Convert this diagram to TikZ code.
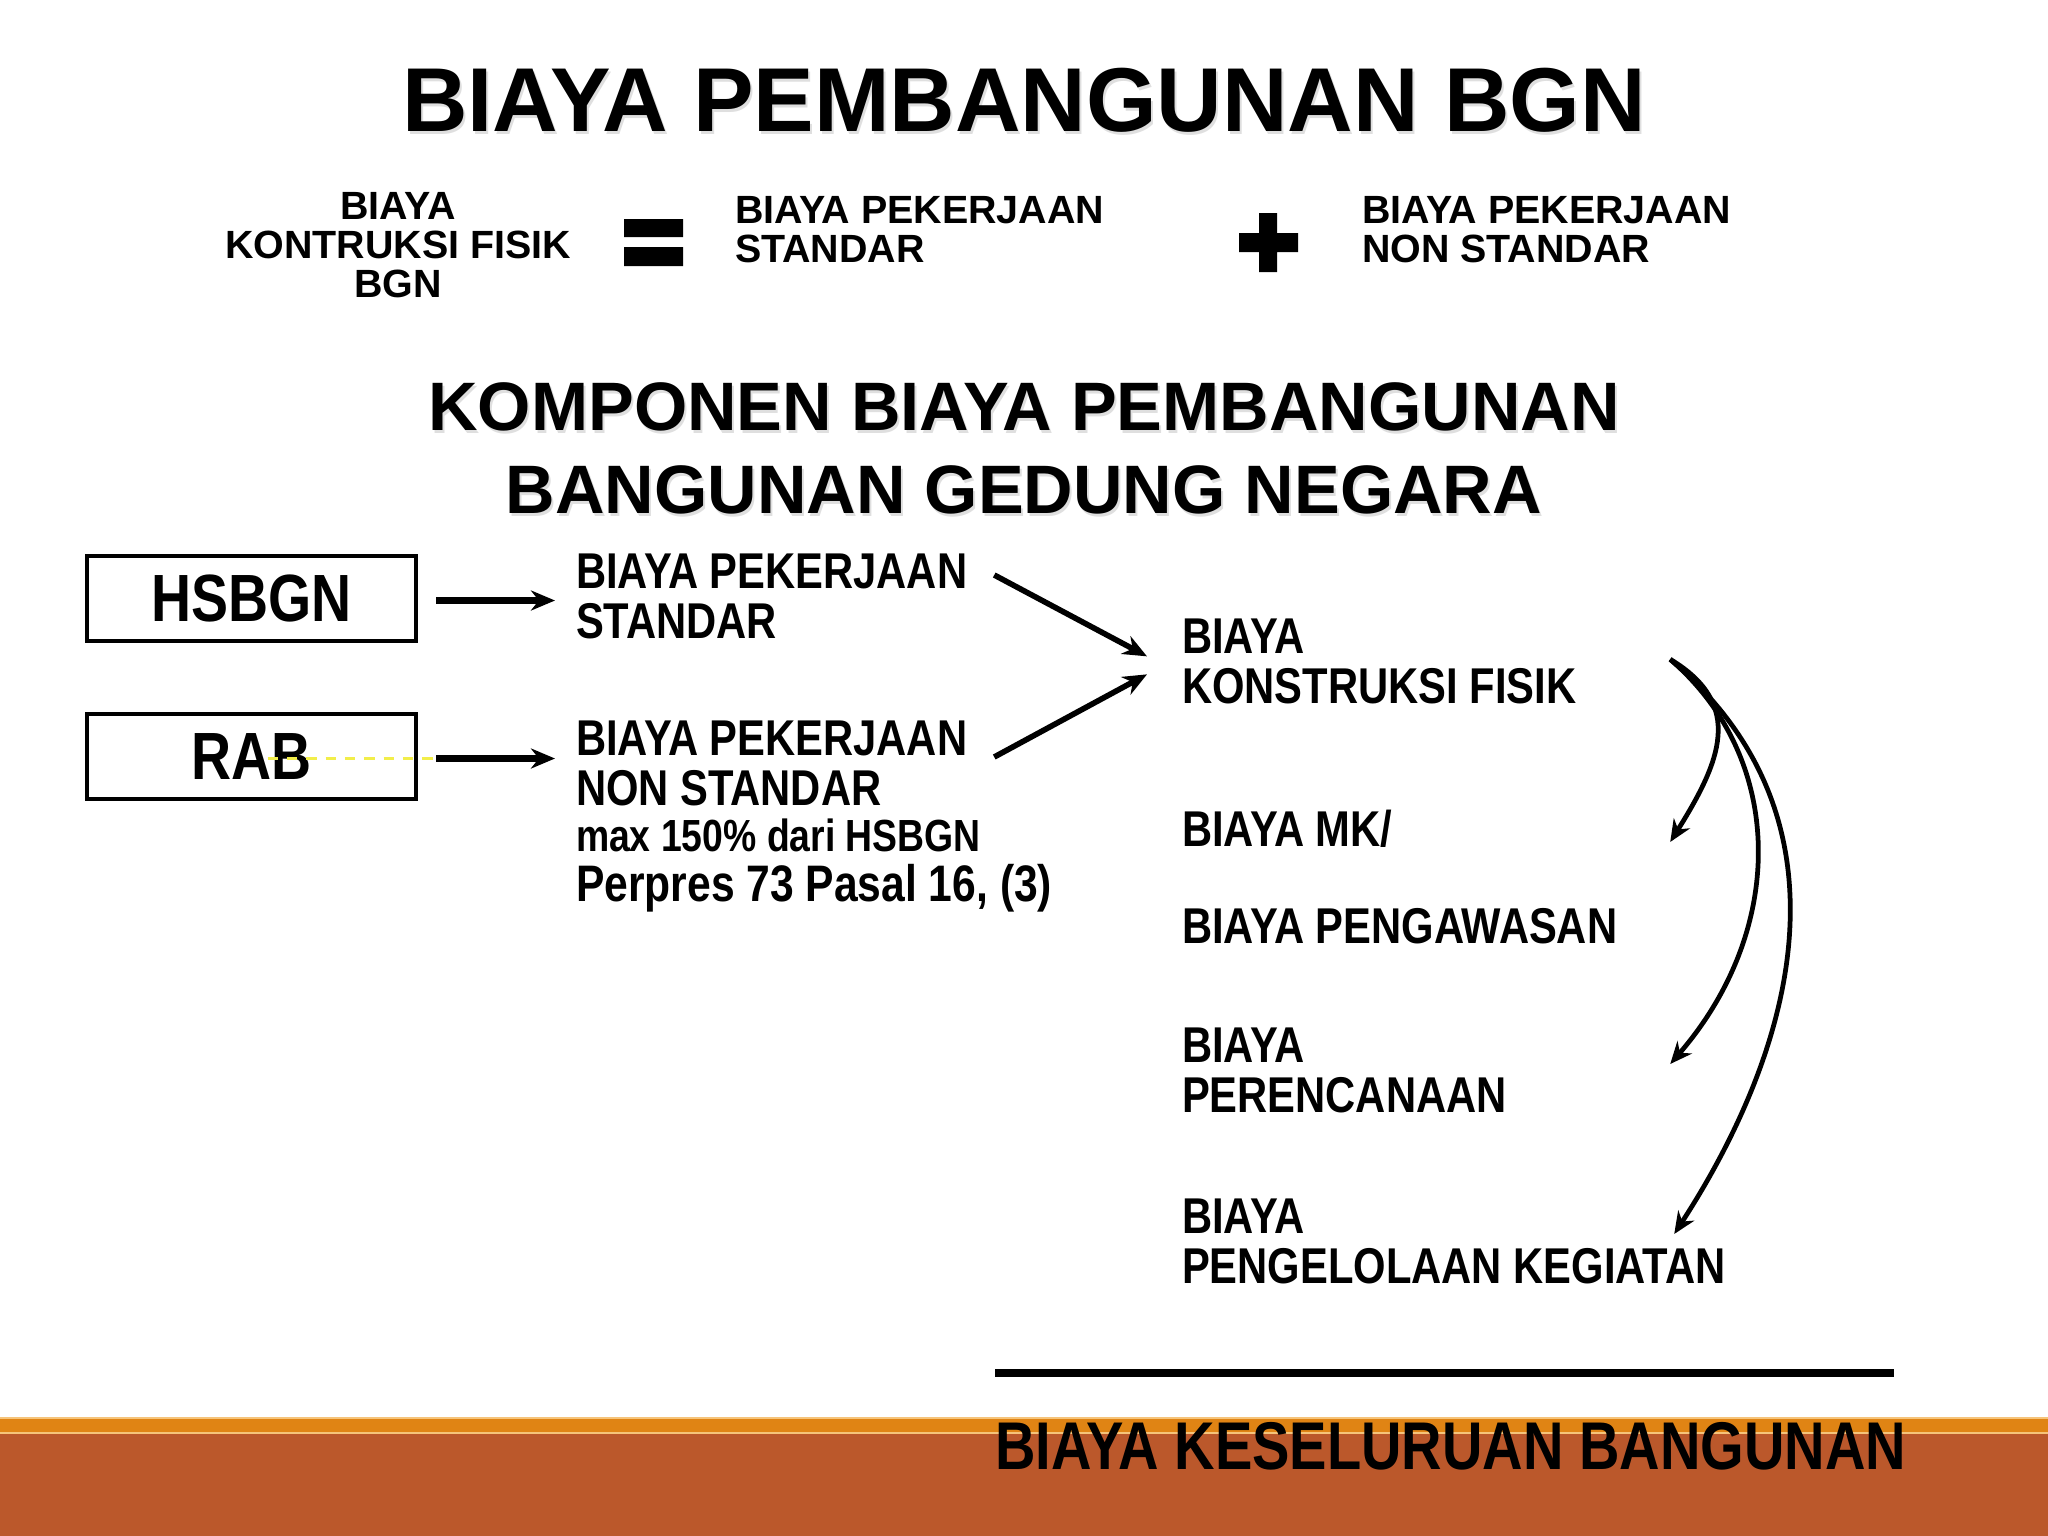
\documentclass[tikz,border=0pt]{standalone}
\usepackage{fontspec}
\setmainfont{Liberation Sans}
\newfontfamily\narrowfont[FakeStretch=0.83]{Liberation Sans}
\usetikzlibrary{arrows.meta,calc}
\definecolor{bandorange}{HTML}{E08414}
\definecolor{bandbrown}{HTML}{BB582B}
\definecolor{bandedge}{HTML}{F6C47A}
\definecolor{markyellow}{HTML}{F2EE4A}

\begin{document}
\begin{tikzpicture}[x=0.01cm,y=-0.01cm,
    every node/.style={inner sep=0pt,outer sep=0pt},
    heading/.style={font=\bfseries\fontsize{25.8}{28}\selectfont},
    subheading/.style={font=\bfseries\fontsize{19.5}{23.6}\selectfont,align=center},
    formula/.style={font=\bfseries\fontsize{11.2}{11.2}\selectfont},
    item/.style={font=\narrowfont\bfseries\fontsize{14.3}{14.1}\selectfont,align=left},
    srcbox/.style={draw,line width=1.1pt,minimum width=3.29cm,minimum height=0.85cm,
        font=\narrowfont\bfseries\fontsize{19}{22}\selectfont},
    feed/.style={-{Stealth[length=0.24cm,width=0.2cm]},line width=2pt},
    spread/.style={-{Stealth[length=0.22cm,width=0.19cm]},line width=1.35pt}]
    \useasboundingbox[fill=white] (0,0) rectangle (2048,1536);

    % judul
    \node[heading,gray!25,anchor=base] (titleshadow) at (1026,134) {BIAYA PEMBANGUNAN BGN};
    \node[heading,anchor=base] (title) at (1024,131) {BIAYA PEMBANGUNAN BGN};

    % rumus
    \node[formula,align=center,anchor=north] (bkfbgn) at (398,192) {BIAYA\\KONTRUKSI FISIK\\BGN};
    \fill (624,219) rectangle (683,237) (624,247) rectangle (683,266);
    \node[formula,align=left,anchor=north west] (fstd) at (735,196) {BIAYA PEKERJAAN\\STANDAR};
    \fill (1259,213) rectangle (1277,272) (1239,233) rectangle (1298,252);
    \node[formula,align=left,anchor=north west] (fnonstd) at (1362,196) {BIAYA PEKERJAAN\\NON STANDAR};

    \node[subheading,gray!25,anchor=north] (subshadow) at (1026,386) {KOMPONEN BIAYA PEMBANGUNAN\\BANGUNAN GEDUNG NEGARA};
    \node[subheading,anchor=north] (subtitle) at (1024,383) {KOMPONEN BIAYA PEMBANGUNAN\\BANGUNAN GEDUNG NEGARA};

    % sumber dan pekerjaan
    \node[srcbox] (hsbgn) at (251.5,598.5) {HSBGN};
    \node[srcbox] (rab) at (251.5,756.5) {RAB};
    \node[item,anchor=north west] (bps) at (576,554) {BIAYA PEKERJAAN\\STANDAR};
    \node[item,anchor=north west] (bpns) at (576,721) {BIAYA PEKERJAAN\\NON STANDAR};
    \node[item,anchor=base west,font=\narrowfont\bfseries\fontsize{12.8}{14}\selectfont] (nsmax) at (576,851) {max 150\% dari HSBGN};
    \node[item,anchor=base west,font=\narrowfont\bfseries\fontsize{14.6}{16}\selectfont] (nsrule) at (576,901) {Perpres 73 Pasal 16, (3)};

    \draw[markyellow,dashed,line width=0.6pt,dash pattern=on 3pt off 2.5pt] ($(rab.center)+(16,2)$) -- ($(rab.east)+(22,2)$);
    \draw[feed] ($(hsbgn.east)+(20,2)$) -- ($(hsbgn.east -| bps.west)+(-21,2)$);
    \draw[feed] ($(rab.east)+(20,2)$) -- ($(rab.east -| bpns.west)+(-21,2)$);

    % komponen
    \node[item,anchor=north west] (bkf) at (1182,619) {BIAYA\\KONSTRUKSI FISIK};
    \node[item,anchor=base west] (bmk) at (1182,846) {BIAYA MK/};
    \node[item,anchor=base west] (bpeng) at (1182,943) {BIAYA PENGAWASAN};
    \node[item,anchor=north west] (bpr) at (1182,1028) {BIAYA\\PERENCANAAN};
    \node[item,anchor=north west] (bpk) at (1182,1199) {BIAYA\\PENGELOLAAN KEGIATAN};

    \draw[feed,line width=1.6pt] ($(bps.north east)+(27,21)$) -- ($(bkf.west)+(-35,-5)$);
    \draw[feed,line width=1.6pt] ($(bpns.north east)+(27,36)$) -- ($(bkf.west)+(-35,13)$);

    \coordinate (kfout) at ($(bkf.east)+(94,-2)$);
    \draw[spread] (kfout) .. controls +(75,45) and +(50,-80) .. ($(kfout |- bmk.base)+(0,-4)$);
    \draw[spread] (kfout) .. controls +(116,100) and +(116,-134) .. ($(kfout |- bpr.north)+(0,36)$);
    \draw[spread] (kfout) .. controls +(190,160) and +(120,-185) .. ($(kfout |- bpk.north)+(4,35)$);

    % total
    \fill[bandorange] (0,1418) rectangle (2048,1433);
    \draw[bandedge,line width=0.5pt] (0,1418) -- (2048,1418) (0,1433) -- (2048,1433);
    \fill[bandbrown] (0,1434) rectangle (2048,1536);
    \draw[line width=2.3pt] (995,1373) -- (1894,1373);
    \node[anchor=base west,font=\narrowfont\bfseries\fontsize{19.2}{22}\selectfont] (total) at (995,1469) {BIAYA KESELURUAN BANGUNAN};
\end{tikzpicture}
\end{document}
